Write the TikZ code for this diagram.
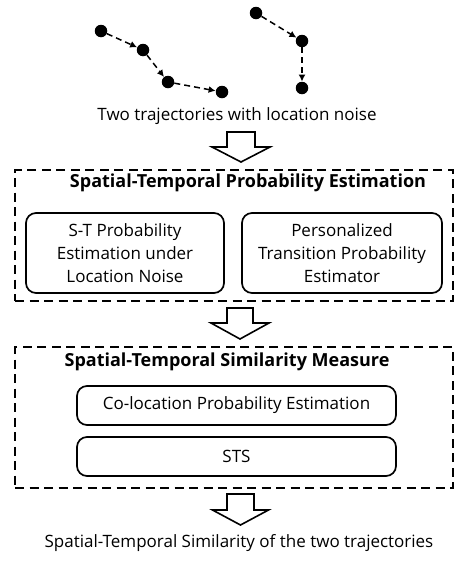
\documentclass[tikz,border=0pt]{standalone}
\usepackage{fontspec}
\setmainfont{Open Sans}
\usetikzlibrary{arrows.meta}
\begin{document}
\begin{tikzpicture}[x=1pt,y=-1pt,
  dot/.style={circle, fill=black, inner sep=0pt, minimum size=12.5pt},
  traj/.style={line width=1.5pt, dash pattern=on 6pt off 4pt, -{Latex[length=7pt,width=7pt]}},
  groupbox/.style={draw, dash pattern=on 9pt off 5.5pt, line width=2.2pt, inner sep=0pt},
  procbox/.style={draw, rounded corners=10pt, line width=1.7pt, inner sep=0pt, align=center, font=\fontsize{17}{23}\selectfont},
  plain/.style={font=\fontsize{17}{20}\selectfont, inner sep=0pt},
  title/.style={font=\bfseries\fontsize{18}{22}\selectfont, inner sep=0pt},
  bigarrow/.style={draw, line width=1.6pt, fill=white, line join=miter}]
\useasboundingbox (0,0) rectangle (474,568);
% trajectories
\node[dot] (a1) at (101,31) {};
\node[dot] (a2) at (143,50) {};
\node[dot] (a3) at (168,82) {};
\node[dot] (a4) at (222,92) {};
\node[dot] (b1) at (256,13) {};
\node[dot] (b2) at (302,41) {};
\node[dot] (b3) at (302,88) {};
\draw[traj] (a1) -- (a2);
\draw[traj] (a2) -- (a3);
\draw[traj] (a3) -- (a4);
\draw[traj] (b1) -- (b2);
\draw[traj] (b2) -- (b3);
\node[plain] (t0) at (237,116) {Two trajectories with location noise};
% group 1
\node[groupbox, minimum width=438pt, minimum height=131pt] (g1) at (234,235.5) {};
\node[title] (g1t) at (248,183) {Spatial-Temporal Probability Estimation};
\node[procbox, minimum width=198pt, minimum height=80pt] (pa) at (125,253) {S-T Probability\\Estimation under\\Location Noise};
\node[procbox, minimum width=200pt, minimum height=80pt] (pb) at (342,253) {Personalized\\Transition Probability\\Estimator};
% group 2
\node[groupbox, minimum width=438pt, minimum height=141pt] (g2) at (234,417.5) {};
\node[title] (g2t) at (227,362) {Spatial-Temporal Similarity Measure};
\node[procbox, minimum width=319pt, minimum height=39pt] (pc) at (236.5,405.5) {Co-location Probability Estimation};
\node[procbox, minimum width=319pt, minimum height=39pt] (pd) at (236.5,456.5) {STS};
\node[plain] (t1) at (239,543) {Spatial-Temporal Similarity of the two trajectories};
% block arrows
\newcommand\blkarrow[6]{% cx, top, base, tip, half shaft, half head
  \draw[bigarrow] (#1-#5,#2) -- (#1+#5,#2) -- (#1+#5,#3) -- (#1+#6,#3) -- (#1,#4) -- (#1-#6,#3) -- (#1-#5,#3) -- cycle;}
\blkarrow{241}{132}{147}{162}{14}{29}
\blkarrow{240}{308}{323}{339}{13}{29}
\blkarrow{240.5}{494}{510}{525}{13.5}{28}
\end{tikzpicture}
\end{document}
